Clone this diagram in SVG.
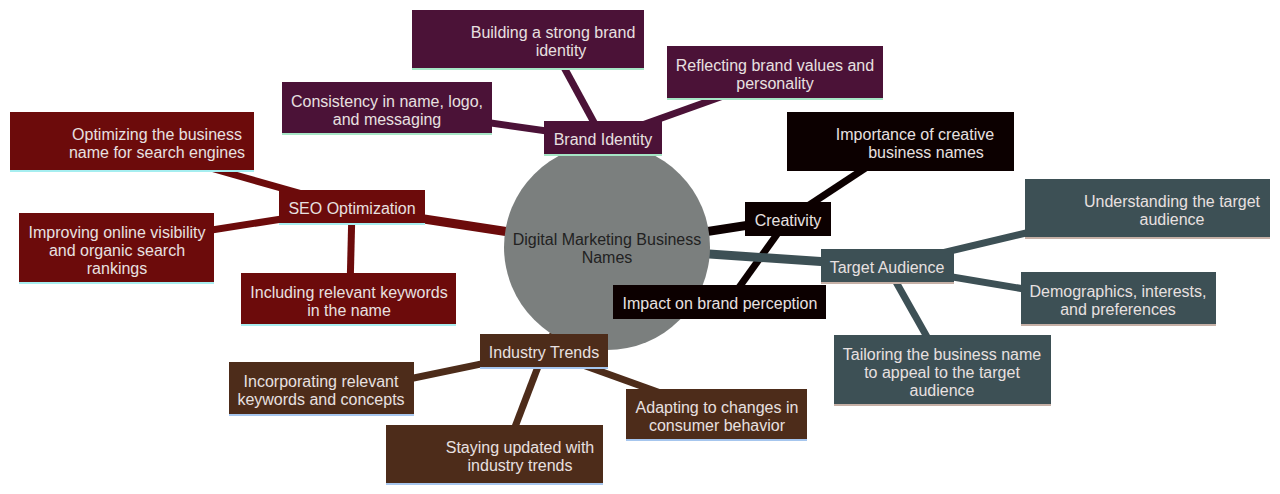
<svg xmlns="http://www.w3.org/2000/svg" width="1280" height="494" viewBox="0 0 1280 494">
<style>
text{font-family:"Liberation Sans",Arial,sans-serif;font-size:16px;fill:#e8e0e0;text-anchor:middle}
.p{fill:#4b1237}.r{fill:#6c0b0b}.k{fill:#0c0000}.s{fill:#3d5055}.b{fill:#4d2c1a}
.ep{stroke:#4b1237}.er{stroke:#6c0b0b}.ek{stroke:#0c0000}.es{stroke:#3d5055}.eb{stroke:#4d2c1a}
.m{stroke-width:9;fill:none}.c{stroke-width:7;fill:none}
</style>
<rect width="1280" height="494" fill="#fff"/>
<g id="edges">
<line class="m ep" x1="607" y1="247" x2="603" y2="139"/>
<line class="c ep" x1="603" y1="139" x2="560" y2="60"/>
<line class="c ep" x1="603" y1="139" x2="740" y2="90"/>
<line class="c ep" x1="603" y1="139" x2="470" y2="120"/>
<line class="m er" x1="607" y1="247" x2="352" y2="208"/>
<line class="c er" x1="352" y1="208" x2="200" y2="165"/>
<line class="c er" x1="352" y1="208" x2="180" y2="235"/>
<line class="c er" x1="352" y1="208" x2="350" y2="290"/>
<line class="m ek" x1="607" y1="247" x2="788" y2="219"/>
<line class="c ek" x1="788" y1="219" x2="870" y2="165"/>
<line class="c ek" x1="788" y1="219" x2="730" y2="300"/>
<line class="m es" x1="607" y1="247" x2="887" y2="266"/>
<line class="c es" x1="887" y1="266" x2="1060" y2="225"/>
<line class="c es" x1="887" y1="266" x2="1060" y2="295"/>
<line class="c es" x1="887" y1="266" x2="940" y2="360"/>
<line class="m eb" x1="607" y1="247" x2="544" y2="351"/>
<line class="c eb" x1="544" y1="351" x2="380" y2="385"/>
<line class="c eb" x1="544" y1="351" x2="510" y2="440"/>
<line class="c eb" x1="544" y1="351" x2="680" y2="400"/>
</g>
<g id="root"><circle cx="607" cy="247" r="103" fill="#7b7f7e"/><text x="607" y="245" style="fill:#222">Digital Marketing Business</text><text x="607" y="263" style="fill:#222">Names</text></g>
<g id="brand"><rect class="p" x="544" y="121" width="118" height="35"/><rect x="544" y="154" width="118" height="2" fill="#a6e6c6"/><text x="603" y="145">Brand Identity</text></g>
<g id="b1"><rect class="p" x="412" y="10" width="232" height="60"/><rect x="412" y="68" width="232" height="2" fill="#a6e6c6"/><text x="553" y="38">Building a strong brand</text><text x="561" y="56">identity</text></g>
<g id="b2"><rect class="p" x="667" y="46" width="216" height="54"/><rect x="667" y="98" width="216" height="2" fill="#a6e6c6"/><text x="775" y="71">Reflecting brand values and</text><text x="775" y="89">personality</text></g>
<g id="b3"><rect class="p" x="282" y="82" width="210" height="53"/><rect x="282" y="133" width="210" height="2" fill="#a6e6c6"/><text x="387" y="107">Consistency in name, logo,</text><text x="387" y="125">and messaging</text></g>
<g id="seo"><rect class="r" x="279" y="190" width="146" height="35"/><rect x="279" y="223" width="146" height="2" fill="#a6eef0"/><text x="352" y="214">SEO Optimization</text></g>
<g id="s1"><rect class="r" x="10" y="112" width="244" height="60"/><rect x="10" y="170" width="244" height="2" fill="#a6eef0"/><text x="157" y="140">Optimizing the business</text><text x="157" y="158">name for search engines</text></g>
<g id="s2"><rect class="r" x="19" y="213" width="195" height="71"/><rect x="19" y="282" width="195" height="2" fill="#a6eef0"/><text x="117" y="238">Improving online visibility</text><text x="117" y="256">and organic search</text><text x="117" y="274">rankings</text></g>
<g id="s3"><rect class="r" x="241" y="273" width="215" height="53"/><rect x="241" y="324" width="215" height="2" fill="#a6eef0"/><text x="349" y="298">Including relevant keywords</text><text x="349" y="316">in the name</text></g>
<g id="creat"><rect class="k" x="745" y="202" width="86" height="34"/><text x="788" y="226">Creativity</text></g>
<g id="c1"><rect class="k" x="787" y="112" width="227" height="59"/><text x="915" y="140">Importance of creative</text><text x="926" y="158">business names</text></g>
<g id="c2"><rect class="k" x="613" y="285" width="213" height="34"/><text x="720" y="309">Impact on brand perception</text></g>
<g id="target"><rect class="s" x="821" y="249" width="133" height="35"/><rect x="821" y="282" width="133" height="2" fill="#c6b0a6"/><text x="887" y="273">Target Audience</text></g>
<g id="t1"><rect class="s" x="1025" y="179" width="245" height="60"/><rect x="1025" y="237" width="245" height="2" fill="#c6b0a6"/><text x="1172" y="207">Understanding the target</text><text x="1172" y="225">audience</text></g>
<g id="t2"><rect class="s" x="1021" y="272" width="195" height="54"/><rect x="1021" y="324" width="195" height="2" fill="#c6b0a6"/><text x="1118" y="297">Demographics, interests,</text><text x="1118" y="315">and preferences</text></g>
<g id="t3"><rect class="s" x="834" y="335" width="217" height="71"/><rect x="834" y="404" width="217" height="2" fill="#c6b0a6"/><text x="942" y="360">Tailoring the business name</text><text x="942" y="378">to appeal to the target</text><text x="942" y="396">audience</text></g>
<g id="industry"><rect class="b" x="480" y="334" width="128" height="35"/><rect x="480" y="367" width="128" height="2" fill="#a6c6ee"/><text x="544" y="358">Industry Trends</text></g>
<g id="i1"><rect class="b" x="229" y="362" width="185" height="54"/><rect x="229" y="414" width="185" height="2" fill="#a6c6ee"/><text x="321" y="387">Incorporating relevant</text><text x="321" y="405">keywords and concepts</text></g>
<g id="i2"><rect class="b" x="386" y="425" width="217" height="60"/><rect x="386" y="483" width="217" height="2" fill="#a6c6ee"/><text x="520" y="453">Staying updated with</text><text x="520" y="471">industry trends</text></g>
<g id="i3"><rect class="b" x="626" y="389" width="181" height="52"/><rect x="626" y="439" width="181" height="2" fill="#a6c6ee"/><text x="717" y="413">Adapting to changes in</text><text x="717" y="431">consumer behavior</text></g>
</svg>
